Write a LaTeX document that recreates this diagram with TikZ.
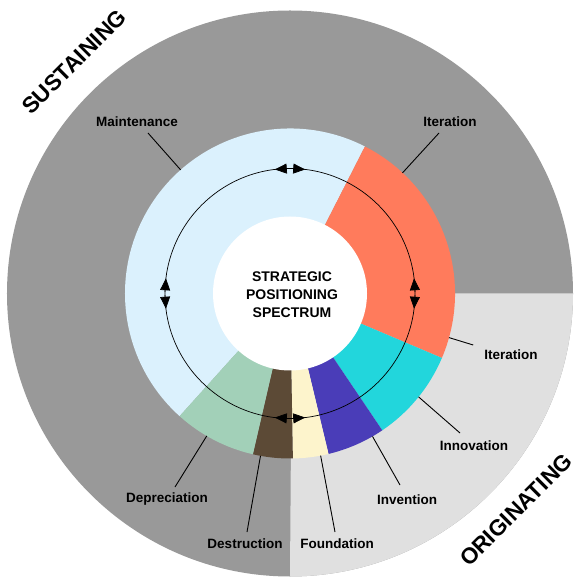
\documentclass[tikz,border=0pt]{standalone}
\usepackage{fontspec}
\setmainfont{Liberation Sans}
\usetikzlibrary{arrows.meta}

\definecolor{grayDark}{RGB}{153,153,153}
\definecolor{grayLight}{RGB}{224,224,224}
\definecolor{ringBlue}{RGB}{219,241,253}
\definecolor{ringOrange}{RGB}{255,123,92}
\definecolor{ringCyan}{RGB}{34,214,220}
\definecolor{ringPurple}{RGB}{74,61,184}
\definecolor{ringCream}{RGB}{253,244,204}
\definecolor{ringBrown}{RGB}{92,74,54}
\definecolor{ringGreen}{RGB}{162,208,184}

\begin{document}
\begin{tikzpicture}[x=1pt,y=1pt]
      \useasboundingbox (-290,-289.5) rectangle (290,293.5);
      \tikzstyle {lbl} = [font=\fontsize{13.5}{16}\selectfont\bfseries, inner sep=1pt];
      \tikzstyle {bigword} = [font=\fontsize{22.5}{25}\selectfont\bfseries, rotate=45, inner sep=0pt];
      \tikzstyle {leader} = [line width=0.9pt, black];
      \tikzstyle {cycletip} = [line width=0.7pt, -{Triangle[length=12pt,width=10pt]}];
      % outer band, split in two halves
      \fill[grayDark] (0,0) circle[radius=283];
      \fill[grayLight] (2,0) -- (0:283) arc[start angle=0, end angle=-90, radius=283] -- cycle;
      % the ring of positions
      \foreach \s/\e/\c in {63/228/ringBlue, -23/63/ringOrange, -56/-23/ringCyan,
          -76.5/-56/ringPurple, -89/-76.5/ringCream, 257/271/ringBrown, 228/257/ringGreen}
        \fill[\c] (0,0) -- (\s:165) arc[start angle=\s, end angle=\e, radius=165] -- cycle;
      \fill[white] (0,0) circle[radius=77];
      % the cycle with its arrow pairs
      \draw[line width=0.7pt] (0,0) circle[radius=125];
      \foreach \a in {0,90,180,270} {
        \draw[cycletip] (\a+0.8:125) -- (\a+7:125);
        \draw[cycletip] (\a-0.8:125) -- (\a-7:125);
      }
      \node (title) at (2,-1.5) [align=center, font=\fontsize{14}{18}\selectfont\bfseries] {STRATEGIC\\POSITIONING\\SPECTRUM};
      \node (sust) [bigword] at (-216,231.5) {SUSTAINING};
      \node (orig) [bigword] at (226,-216.5) {ORIGINATING};
      % labels and their leaders
      \node (lMaint) [lbl] at (-153,171.5) {Maintenance};
      \node (lIterA) [lbl] at (160,171.5) {Iteration};
      \node (lIterB) [lbl] at (221,-61.5) {Iteration};
      \node (lInnov) [lbl] at (184,-152.5) {Innovation};
      \node (lInven) [lbl] at (117,-206.5) {Invention};
      \node (lFound) [lbl] at (47,-250.5) {Foundation};
      \node (lDestr) [lbl] at (-45,-250.5) {Destruction};
      \node (lDepre) [lbl] at (-123,-205.5) {Depreciation};
      \coordinate (mMaint) at (131.5:165);
      \coordinate (mIterA) at (47:165);
      \coordinate (mIterB) at (-15.5:165);
      \coordinate (mInnov) at (-38.8:165);
      \coordinate (mInven) at (-60:165);
      \coordinate (mFound) at (-79.3:165);
      \coordinate (mDestr) at (259.7:165);
      \coordinate (mDepre) at (239.7:165);
      \draw[leader] (mMaint) -- ([shift={(11,-11)}]lMaint.center);
      \draw[leader] (mIterA) -- ([shift={(-11,-11)}]lIterA.center);
      \draw[leader] (mIterB) -- ([shift={(-10,10)}]lIterB.west);
      \draw[leader] (mInnov) -- ([shift={(-14,13)}]lInnov.center);
      \draw[leader] (mInven) -- ([shift={(-7,15)}]lInven.center);
      \draw[leader] (mFound) -- ([shift={(-2,12)}]lFound.center);
      \draw[leader] (mDestr) -- ([shift={(2,12)}]lDestr.center);
      \draw[leader] (mDepre) -- ([shift={(8,12)}]lDepre.center);
\end{tikzpicture}
\end{document}
